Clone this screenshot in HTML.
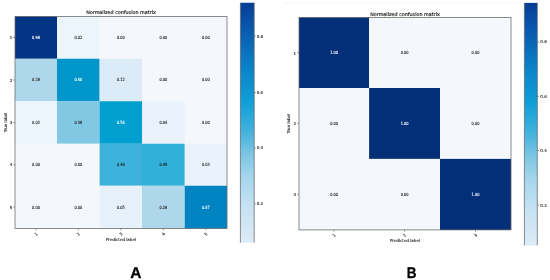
<!DOCTYPE html>
<html><head><meta charset="utf-8"><title>Normalized confusion matrices</title><style>html,body{margin:0;padding:0;background:#fff;width:550px;height:280px;overflow:hidden}svg{display:block}</style></head><body>
<svg width="550" height="280" viewBox="0 0 550 280">
<style>.s{font-family:'DejaVu Sans', 'Liberation Sans', sans-serif;font-size:4.05px} .t{font-family:'DejaVu Sans', 'Liberation Sans', sans-serif;font-size:4.85px} .t{stroke:#111;stroke-width:.14px} .k{stroke:#262626;stroke-width:.12px} .w{stroke:#fff;stroke-width:.1px} .d{stroke:#1a1a1a;stroke-width:.1px} .big{font-family:"Liberation Sans",Arial,sans-serif;font-weight:bold;font-size:15.5px;text-rendering:geometricPrecision;stroke:#000;stroke-width:0.3px}</style>
<rect width="550" height="280" fill="#fff"/>
<line x1="284" y1="3" x2="520" y2="3" stroke="#f3f3f3" stroke-width="1"/>
<g id="panelA">
<rect x="15.00" y="16.40" width="42.05" height="42.40" fill="#043584"/>
<rect x="57.00" y="16.40" width="42.65" height="42.40" fill="#edf5fc"/>
<rect x="99.60" y="16.40" width="42.45" height="42.40" fill="#f4f8fd"/>
<rect x="142.00" y="16.40" width="42.80" height="42.40" fill="#f4f8fd"/>
<rect x="184.75" y="16.40" width="42.30" height="42.40" fill="#f4f8fd"/>
<rect x="15.00" y="58.75" width="42.05" height="42.55" fill="#afd7ec"/>
<rect x="57.00" y="58.75" width="42.65" height="42.55" fill="#0096cb"/>
<rect x="99.60" y="58.75" width="42.45" height="42.55" fill="#dbecf8"/>
<rect x="142.00" y="58.75" width="42.80" height="42.55" fill="#f4f8fd"/>
<rect x="184.75" y="58.75" width="42.30" height="42.55" fill="#f4f8fd"/>
<rect x="15.00" y="101.25" width="42.05" height="42.55" fill="#edf5fc"/>
<rect x="57.00" y="101.25" width="42.65" height="42.55" fill="#82c8e2"/>
<rect x="99.60" y="101.25" width="42.45" height="42.55" fill="#009fd0"/>
<rect x="142.00" y="101.25" width="42.80" height="42.55" fill="#e9f2fb"/>
<rect x="184.75" y="101.25" width="42.30" height="42.55" fill="#f4f8fd"/>
<rect x="15.00" y="143.75" width="42.05" height="42.05" fill="#f4f8fd"/>
<rect x="57.00" y="143.75" width="42.65" height="42.05" fill="#f4f8fd"/>
<rect x="99.60" y="143.75" width="42.45" height="42.05" fill="#3eb2da"/>
<rect x="142.00" y="143.75" width="42.80" height="42.05" fill="#31b0d9"/>
<rect x="184.75" y="143.75" width="42.30" height="42.05" fill="#eaf3fb"/>
<rect x="15.00" y="185.75" width="42.05" height="42.80" fill="#f4f8fd"/>
<rect x="57.00" y="185.75" width="42.65" height="42.80" fill="#f4f8fd"/>
<rect x="99.60" y="185.75" width="42.45" height="42.80" fill="#e6f1fa"/>
<rect x="142.00" y="185.75" width="42.80" height="42.80" fill="#afd7ec"/>
<rect x="184.75" y="185.75" width="42.30" height="42.80" fill="#0083c1"/>
<text transform="translate(36.00,39.03) scale(0.87,1.08)" fill="#fff" class="s w" text-anchor="middle">0.98</text>
<text transform="translate(78.30,39.03) scale(0.87,1.08)" fill="#1a1a1a" class="s d" text-anchor="middle">0.02</text>
<text transform="translate(120.80,39.03) scale(0.87,1.08)" fill="#1a1a1a" class="s d" text-anchor="middle">0.00</text>
<text transform="translate(163.38,39.03) scale(0.87,1.08)" fill="#1a1a1a" class="s d" text-anchor="middle">0.00</text>
<text transform="translate(205.88,39.03) scale(0.87,1.08)" fill="#1a1a1a" class="s d" text-anchor="middle">0.00</text>
<text transform="translate(36.00,81.45) scale(0.87,1.08)" fill="#1a1a1a" class="s d" text-anchor="middle">0.28</text>
<text transform="translate(78.30,81.45) scale(0.87,1.08)" fill="#fff" class="s w" text-anchor="middle">0.60</text>
<text transform="translate(120.80,81.45) scale(0.87,1.08)" fill="#1a1a1a" class="s d" text-anchor="middle">0.12</text>
<text transform="translate(163.38,81.45) scale(0.87,1.08)" fill="#1a1a1a" class="s d" text-anchor="middle">0.00</text>
<text transform="translate(205.88,81.45) scale(0.87,1.08)" fill="#1a1a1a" class="s d" text-anchor="middle">0.00</text>
<text transform="translate(36.00,123.95) scale(0.87,1.08)" fill="#1a1a1a" class="s d" text-anchor="middle">0.02</text>
<text transform="translate(78.30,123.95) scale(0.87,1.08)" fill="#1a1a1a" class="s d" text-anchor="middle">0.38</text>
<text transform="translate(120.80,123.95) scale(0.87,1.08)" fill="#fff" class="s w" text-anchor="middle">0.56</text>
<text transform="translate(163.38,123.95) scale(0.87,1.08)" fill="#1a1a1a" class="s d" text-anchor="middle">0.04</text>
<text transform="translate(205.88,123.95) scale(0.87,1.08)" fill="#1a1a1a" class="s d" text-anchor="middle">0.00</text>
<text transform="translate(36.00,166.20) scale(0.87,1.08)" fill="#1a1a1a" class="s d" text-anchor="middle">0.00</text>
<text transform="translate(78.30,166.20) scale(0.87,1.08)" fill="#1a1a1a" class="s d" text-anchor="middle">0.00</text>
<text transform="translate(120.80,166.20) scale(0.87,1.08)" fill="#1a1a1a" class="s d" text-anchor="middle">0.48</text>
<text transform="translate(163.38,166.20) scale(0.87,1.08)" fill="#1a1a1a" class="s d" text-anchor="middle">0.49</text>
<text transform="translate(205.88,166.20) scale(0.87,1.08)" fill="#1a1a1a" class="s d" text-anchor="middle">0.03</text>
<text transform="translate(36.00,208.57) scale(0.87,1.08)" fill="#1a1a1a" class="s d" text-anchor="middle">0.00</text>
<text transform="translate(78.30,208.57) scale(0.87,1.08)" fill="#1a1a1a" class="s d" text-anchor="middle">0.00</text>
<text transform="translate(120.80,208.57) scale(0.87,1.08)" fill="#1a1a1a" class="s d" text-anchor="middle">0.05</text>
<text transform="translate(163.38,208.57) scale(0.87,1.08)" fill="#1a1a1a" class="s d" text-anchor="middle">0.28</text>
<text transform="translate(205.88,208.57) scale(0.87,1.08)" fill="#fff" class="s w" text-anchor="middle">0.67</text>
<rect x="15.00" y="16.40" width="212.00" height="212.10" fill="none" stroke="#666" stroke-width="0.75"/>
<line x1="13.20" y1="37.58" x2="15.00" y2="37.58" stroke="#333" stroke-width="0.45"/>
<text x="12.30" y="39.08" class="s k" text-anchor="end" fill="#262626">1</text>
<line x1="36.00" y1="228.50" x2="36.00" y2="230.30" stroke="#333" stroke-width="0.45"/>
<text transform="translate(36.00,234.00) rotate(-45)" y="1.48" class="s k" text-anchor="middle" fill="#262626">1</text>
<line x1="13.20" y1="80.00" x2="15.00" y2="80.00" stroke="#333" stroke-width="0.45"/>
<text x="12.30" y="81.50" class="s k" text-anchor="end" fill="#262626">2</text>
<line x1="78.30" y1="228.50" x2="78.30" y2="230.30" stroke="#333" stroke-width="0.45"/>
<text transform="translate(78.30,234.00) rotate(-45)" y="1.48" class="s k" text-anchor="middle" fill="#262626">2</text>
<line x1="13.20" y1="122.50" x2="15.00" y2="122.50" stroke="#333" stroke-width="0.45"/>
<text x="12.30" y="124.00" class="s k" text-anchor="end" fill="#262626">3</text>
<line x1="120.80" y1="228.50" x2="120.80" y2="230.30" stroke="#333" stroke-width="0.45"/>
<text transform="translate(120.80,234.00) rotate(-45)" y="1.48" class="s k" text-anchor="middle" fill="#262626">3</text>
<line x1="13.20" y1="164.75" x2="15.00" y2="164.75" stroke="#333" stroke-width="0.45"/>
<text x="12.30" y="166.25" class="s k" text-anchor="end" fill="#262626">4</text>
<line x1="163.38" y1="228.50" x2="163.38" y2="230.30" stroke="#333" stroke-width="0.45"/>
<text transform="translate(163.38,234.00) rotate(-45)" y="1.48" class="s k" text-anchor="middle" fill="#262626">4</text>
<line x1="13.20" y1="207.12" x2="15.00" y2="207.12" stroke="#333" stroke-width="0.45"/>
<text x="12.30" y="208.62" class="s k" text-anchor="end" fill="#262626">5</text>
<line x1="205.88" y1="228.50" x2="205.88" y2="230.30" stroke="#333" stroke-width="0.45"/>
<text transform="translate(205.88,234.00) rotate(-45)" y="1.48" class="s k" text-anchor="middle" fill="#262626">5</text>
<text x="121.00" y="14.30" class="t" text-anchor="middle" fill="#111">Normalized confusion matrix</text>
<text x="121.00" y="241.20" class="s k" text-anchor="middle" fill="#262626">Predicted label</text>
<text transform="translate(6.90,122.45) rotate(-90)" class="s k" text-anchor="middle" fill="#262626">True label</text>
<defs><linearGradient id="cbA" x1="0" y1="0" x2="0" y2="1"><stop offset="0" stop-color="#053e92"/><stop offset="0.07" stop-color="#084fa8"/><stop offset="0.27" stop-color="#0a82c8"/><stop offset="0.415" stop-color="#10a0d8"/><stop offset="0.54" stop-color="#44b2dd"/><stop offset="0.63" stop-color="#7cc5e3"/><stop offset="0.725" stop-color="#a4d6ec"/><stop offset="0.85" stop-color="#c6e2f3"/><stop offset="0.96" stop-color="#d6e8f6"/><stop offset="1" stop-color="#dcebf7"/></linearGradient></defs>
<rect x="240.40" y="2.75" width="13.80" height="239.85" fill="url(#cbA)"/>
<line x1="240.40" y1="2.75" x2="240.40" y2="242.60" stroke="#666" stroke-width="0.75"/>
<line x1="254.20" y1="2.75" x2="254.20" y2="242.60" stroke="#666" stroke-width="0.75"/>
<line x1="254.20" y1="36.10" x2="256.00" y2="36.10" stroke="#333" stroke-width="0.45"/>
<text x="256.70" y="37.55" class="s k" fill="#262626">0.8</text>
<line x1="254.20" y1="92.70" x2="256.00" y2="92.70" stroke="#333" stroke-width="0.45"/>
<text x="256.70" y="94.15" class="s k" fill="#262626">0.6</text>
<line x1="254.20" y1="148.00" x2="256.00" y2="148.00" stroke="#333" stroke-width="0.45"/>
<text x="256.70" y="149.45" class="s k" fill="#262626">0.4</text>
<line x1="254.20" y1="203.80" x2="256.00" y2="203.80" stroke="#333" stroke-width="0.45"/>
<text x="256.70" y="205.25" class="s k" fill="#262626">0.2</text>
<text transform="translate(135.8,277.9) scale(1.0,1.0)" class="big" text-anchor="middle" fill="#000">A</text>
</g>
<g id="panelB">
<rect x="299.00" y="17.40" width="70.15" height="70.65" fill="#032f78"/>
<rect x="369.10" y="17.40" width="70.95" height="70.65" fill="#f4f8fd"/>
<rect x="440.00" y="17.40" width="71.05" height="70.65" fill="#f4f8fd"/>
<rect x="299.00" y="88.00" width="70.15" height="70.95" fill="#f4f8fd"/>
<rect x="369.10" y="88.00" width="70.95" height="70.95" fill="#032f78"/>
<rect x="440.00" y="88.00" width="71.05" height="70.95" fill="#f4f8fd"/>
<rect x="299.00" y="158.90" width="70.15" height="71.05" fill="#f4f8fd"/>
<rect x="369.10" y="158.90" width="70.95" height="71.05" fill="#f4f8fd"/>
<rect x="440.00" y="158.90" width="71.05" height="71.05" fill="#032f78"/>
<text transform="translate(334.05,54.15) scale(0.87,1.08)" fill="#fff" class="s w" text-anchor="middle">1.00</text>
<text transform="translate(404.55,54.15) scale(0.87,1.08)" fill="#1a1a1a" class="s d" text-anchor="middle">0.00</text>
<text transform="translate(475.50,54.15) scale(0.87,1.08)" fill="#1a1a1a" class="s d" text-anchor="middle">0.00</text>
<text transform="translate(334.05,124.90) scale(0.87,1.08)" fill="#1a1a1a" class="s d" text-anchor="middle">0.00</text>
<text transform="translate(404.55,124.90) scale(0.87,1.08)" fill="#fff" class="s w" text-anchor="middle">1.00</text>
<text transform="translate(475.50,124.90) scale(0.87,1.08)" fill="#1a1a1a" class="s d" text-anchor="middle">0.00</text>
<text transform="translate(334.05,195.85) scale(0.87,1.08)" fill="#1a1a1a" class="s d" text-anchor="middle">0.00</text>
<text transform="translate(404.55,195.85) scale(0.87,1.08)" fill="#1a1a1a" class="s d" text-anchor="middle">0.00</text>
<text transform="translate(475.50,195.85) scale(0.87,1.08)" fill="#fff" class="s w" text-anchor="middle">1.00</text>
<rect x="299.00" y="17.40" width="212.00" height="212.50" fill="none" stroke="#666" stroke-width="0.75"/>
<line x1="297.20" y1="52.70" x2="299.00" y2="52.70" stroke="#333" stroke-width="0.45"/>
<text x="296.20" y="54.70" class="s k" text-anchor="end" fill="#262626">1</text>
<line x1="334.05" y1="229.90" x2="334.05" y2="231.70" stroke="#333" stroke-width="0.45"/>
<text transform="translate(334.05,235.20) rotate(-45)" y="1.48" class="s k" text-anchor="middle" fill="#262626">1</text>
<line x1="297.20" y1="123.45" x2="299.00" y2="123.45" stroke="#333" stroke-width="0.45"/>
<text x="296.20" y="125.45" class="s k" text-anchor="end" fill="#262626">2</text>
<line x1="404.55" y1="229.90" x2="404.55" y2="231.70" stroke="#333" stroke-width="0.45"/>
<text transform="translate(404.55,235.20) rotate(-45)" y="1.48" class="s k" text-anchor="middle" fill="#262626">2</text>
<line x1="297.20" y1="194.40" x2="299.00" y2="194.40" stroke="#333" stroke-width="0.45"/>
<text x="296.20" y="196.40" class="s k" text-anchor="end" fill="#262626">3</text>
<line x1="475.50" y1="229.90" x2="475.50" y2="231.70" stroke="#333" stroke-width="0.45"/>
<text transform="translate(475.50,235.20) rotate(-45)" y="1.48" class="s k" text-anchor="middle" fill="#262626">3</text>
<text x="405.00" y="15.80" class="t" text-anchor="middle" fill="#111">Normalized confusion matrix</text>
<text x="405.00" y="242.30" class="s k" text-anchor="middle" fill="#262626">Predicted label</text>
<text transform="translate(290.10,123.65) rotate(-90)" class="s k" text-anchor="middle" fill="#262626">True label</text>
<defs><linearGradient id="cbB" x1="0" y1="0" x2="0" y2="1"><stop offset="0" stop-color="#053e92"/><stop offset="0.07" stop-color="#084fa8"/><stop offset="0.27" stop-color="#0a82c8"/><stop offset="0.415" stop-color="#10a0d8"/><stop offset="0.54" stop-color="#44b2dd"/><stop offset="0.63" stop-color="#7cc5e3"/><stop offset="0.725" stop-color="#a4d6ec"/><stop offset="0.85" stop-color="#c6e2f3"/><stop offset="0.96" stop-color="#d6e8f6"/><stop offset="1" stop-color="#dcebf7"/></linearGradient></defs>
<rect x="524.40" y="2.90" width="12.90" height="242.60" fill="url(#cbB)"/>
<line x1="524.40" y1="2.90" x2="524.40" y2="245.50" stroke="#666" stroke-width="0.75"/>
<line x1="537.30" y1="2.90" x2="537.30" y2="245.50" stroke="#666" stroke-width="0.75"/>
<line x1="537.30" y1="41.90" x2="539.10" y2="41.90" stroke="#333" stroke-width="0.45"/>
<text x="540.30" y="43.35" class="s k" fill="#262626">0.8</text>
<line x1="537.30" y1="96.30" x2="539.10" y2="96.30" stroke="#333" stroke-width="0.45"/>
<text x="540.30" y="97.75" class="s k" fill="#262626">0.6</text>
<line x1="537.30" y1="150.70" x2="539.10" y2="150.70" stroke="#333" stroke-width="0.45"/>
<text x="540.30" y="152.15" class="s k" fill="#262626">0.4</text>
<line x1="537.30" y1="205.10" x2="539.10" y2="205.10" stroke="#333" stroke-width="0.45"/>
<text x="540.30" y="206.55" class="s k" fill="#262626">0.2</text>
<text transform="translate(411.65,277.9) scale(0.87,1.0)" class="big" text-anchor="middle" fill="#000">B</text>
</g>
</svg>
</body></html>
